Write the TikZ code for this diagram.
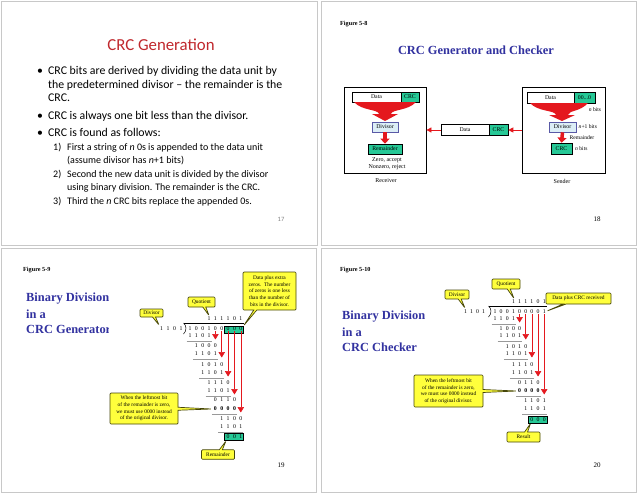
\documentclass[tikz,border=0pt]{standalone}
\usepackage{fontspec}
\setmainfont{Liberation Serif}
\newfontfamily\calfont{Carlito}
\usetikzlibrary{arrows.meta,shapes.callouts}
\definecolor{crcgreen}{RGB}{38,200,150}
\definecolor{funred}{RGB}{228,24,30}
\definecolor{ttlred}{RGB}{192,40,45}
\definecolor{ttlblue}{RGB}{50,50,160}
\definecolor{calyel}{RGB}{255,255,60}
\definecolor{calbrd}{RGB}{70,70,10}
\definecolor{divblue}{RGB}{220,238,246}
\definecolor{slidegray}{RGB}{200,200,200}
\newcommand\drow[7]{%
  \foreach \d [count=\k from #5] in {#6} {
    \node[dig,#7] (#1-\k) at ({#2+\k*#3}, #4) {\d};
  }}
\newcommand\funnel[5]{%
  \fill[funred] (#1,#3) .. controls (#1+8,#3+9) and (#4-7,#3+7) .. (#4-6,#3+12)
    -- (#4-13,#3+12) -- (#4,#5) -- (#4+13,#3+12) -- (#4+6,#3+12)
    .. controls (#4+7,#3+7) and (#2-8,#3+9) .. (#2,#3) -- cycle;}
\begin{document}
\begin{tikzpicture}[x=1pt,y=-1pt,
  slide/.style={draw=slidegray, line width=0.6pt},
  figlbl/.style={anchor=west, inner sep=0, font=\bfseries\fontsize{6.2}{7}\selectfont},
  bigt/.style={inner sep=0, text=ttlblue, font=\bfseries\fontsize{12.4}{14}\selectfont},
  btl/.style={bigt, anchor=west},
  lbl/.style={inner sep=0, font=\fontsize{6}{7}\selectfont},
  bx/.style={draw=black, line width=0.6pt, inner sep=0, minimum height=10pt, font=\fontsize{5.8}{7}\selectfont},
  wbox/.style={bx, fill=white},
  gbx/.style={bx, fill=crcgreen},
  dbox/.style={bx, fill=divblue, draw=gray!70!blue},
  outerbox/.style={draw=black, line width=0.8pt, inner sep=0, fill=white},
  dig/.style={inner sep=0, font=\fontsize{5.8}{6}\selectfont},
  rule/.style={draw=gray!80, line width=0.45pt},
  redarr/.style={draw=funred, line width=0.55pt, -{Triangle[width=6.5pt,length=5.5pt]}},
  fatarr/.style={draw=funred, line width=3.5pt, -{Triangle[width=9pt,length=5pt]}},
  thinarr/.style={draw=funred, line width=0.8pt, -{Triangle[width=5pt,length=5pt]}},
  hl/.style={draw=black, line width=0.5pt, fill=crcgreen, inner sep=0},
  callbox/.style={rectangle callout, draw=calbrd, fill=calyel, line width=0.7pt, rounded corners=1pt, inner sep=0, align=center, font=\fontsize{5.4}{6.6}\selectfont, callout pointer width=3pt},
  pnum/.style={inner sep=0, font=\fontsize{7}{8}\selectfont},
  bt/.style={anchor=west, inner sep=0, font=\calfont\fontsize{11.8}{13}\selectfont, text height=8pt, text depth=2.3pt},
  st/.style={anchor=west, inner sep=0, font=\calfont\fontsize{10}{11}\selectfont, text height=6.8pt, text depth=2pt}
]
\useasboundingbox (0,0) rectangle (638,493);
\fill[white] (0,0) rectangle (638,493);
% slide frames
\draw[slide] (1,1) rectangle (317,245);
\draw[slide] (321,1) rectangle (636,245);
\draw[slide] (1,248) rectangle (316,492);
\draw[slide] (321,248) rectangle (636,492);

% ---------------- slide 17 ----------------
\node[inner sep=0, text=ttlred, font=\calfont\fontsize{16.8}{19}\selectfont] (t17) at (161,45) {CRC Generation};
\node[bt] (u1) at (37,72) {•};
\node[bt] (b1) at (48,72) {CRC bits are derived by dividing the data unit by};
\node[bt] (b2) at (48,86) {the predetermined divisor – the remainder is the};
\node[bt] (b3) at (48,99) {CRC.};
\node[bt] (u2) at (37,117) {•};
\node[bt] (b4) at (48,117) {CRC is always one bit less than the divisor.};
\node[bt] (u3) at (37,134) {•};
\node[bt] (b5) at (48,134) {CRC is found as follows:};
\node[st] (n1) at (53,148) {1)};
\node[st] (s1) at (67,148) {First a string of \textit{n} 0s is appended to the data unit};
\node[st] (s2) at (67,161) {(assume divisor has \textit{n}+1 bits)};
\node[st] (n2) at (53,175) {2)};
\node[st] (s3) at (67,175) {Second the new data unit is divided by the divisor};
\node[st] (s4) at (67,188) {using binary division. The remainder is the CRC.};
\node[st] (n3) at (53,202) {3)};
\node[st] (s5) at (67,202) {Third the \textit{n} CRC bits replace the appended 0s.};
\node[inner sep=0, text=gray, font=\calfont\fontsize{6.5}{7}\selectfont] (p17) at (281,219) {17};

% ---------------- slide 18 ----------------
\node[figlbl] (f58) at (340,24) {Figure 5-8};
\node[bigt] (t18) at (476,50) {CRC Generator and Checker};
% receiver
\node[outerbox, minimum width=82pt, minimum height=86pt] (rbox) at (385,130) {};
\node[wbox, minimum width=49pt] (rdata) at (376.5,97) {Data};
\node[gbx, minimum width=18pt] (rcrc) at (410,97) {CRC};
\funnel{354}{416}{102}{385}{121}
\node[dbox, minimum width=26pt] (rdiv) at (385,127) {Divisor};
\node[gbx, minimum width=34pt] (rrem) at (385,149) {Remainder};
\draw[fatarr] (rdiv.south) -- (rrem.north);
\node[lbl, align=center, font=\fontsize{6}{7}\selectfont] (racc) at (387,163.5) {Zero, accept\\Nonzero, reject};
\node[lbl] (rlbl) at (386,181) {Receiver};
% middle
\node[wbox, minimum width=48pt, minimum height=11pt] (mdata) at (465,130) {Data};
\node[gbx, minimum width=19pt, minimum height=11pt] (mcrc) at (498.5,130) {CRC};
% sender
\node[outerbox, minimum width=83pt, minimum height=86pt] (sbox) at (563.5,130) {};
\node[wbox, minimum width=47pt, minimum height=11pt] (sdata) at (550.5,97.5) {Data};
\node[gbx, minimum width=21pt, minimum height=11pt] (szero) at (584.5,97.5) {00...0};
\funnel{530}{588}{103}{562}{121}
\node[lbl, font=\fontsize{5.6}{7}\selectfont] (snb) at (595,109.5) {\textit{n} bits};
\node[dbox, minimum width=27pt] (sdiv) at (562.5,127) {Divisor};
\node[lbl, anchor=west, font=\fontsize{5.6}{7}\selectfont] (sn1) at (578.5,127) {\textit{n}+1 bits};
\node[gbx, minimum width=21pt, minimum height=11pt] (scrc) at (561.5,148.5) {CRC};
\draw[fatarr] (sdiv.south) -- (scrc.north);
\node[lbl, font=\fontsize{5.6}{7}\selectfont] (srem) at (582,137.5) {Remainder};
\node[lbl, anchor=west, font=\fontsize{5.6}{7}\selectfont] (snb2) at (575,149) {\textit{n} bits};
\node[lbl] (slbl) at (562,181) {Sender};
\draw[thinarr] (sbox.west) -- (mcrc.east);
\draw[thinarr] (mdata.west) -- (rbox.east);
\node[pnum] (p18) at (597,219) {18};

% ---------------- slide 19 ----------------
\node[figlbl] (f59) at (23,270) {Figure 5-9};
\begin{scope}
\clip (0,250) rectangle (108,490);
\node[btl] (g1t) at (26,299) {Binary Division};
\node[btl] (g2t) at (26,314) {in a};
\node[btl] (g3t) at (26,329) {CRC Generator};
\end{scope}
\node[hl, minimum width=19.5pt, minimum height=7.5pt] (ghl) at (233.8,329.5) {};
\node[hl, minimum width=19.5pt, minimum height=7pt] (grem) at (233.8,437) {};
\drow{gv}{161.5}{6.5}{329}{0}{1,1,0,1}{}
\draw[line width=0.5pt] (184,323) -- (244,323);
\draw[line width=0.5pt] (183.5,323) .. controls (186.8,325.5) and (186.8,331) .. (183.5,334);
\drow{gq}{190}{6.35}{319}{3}{1,1,1,1,0,1}{}
\drow{gd}{190}{6.35}{329}{0}{1,0,0,1,0,0,0,0,0}{}
\drow{g1}{190}{6.35}{336}{0}{1,1,0,1}{}
\drow{g2}{190}{6.35}{346}{1}{1,0,0,0}{}
\drow{g3}{190}{6.35}{354}{1}{1,1,0,1}{}
\drow{g4}{190}{6.35}{365}{2}{1,0,1,0}{}
\drow{g5}{190}{6.35}{373}{2}{1,1,0,1}{}
\drow{g6}{190}{6.35}{383}{3}{1,1,1,0}{}
\drow{g7}{190}{6.35}{391}{3}{1,1,0,1}{}
\drow{g8}{190}{6.35}{400}{4}{0,1,1,0}{}
\drow{g9}{190}{6.35}{409}{4}{0,0,0,0}{font=\bfseries\fontsize{5.8}{6}\selectfont}
\drow{g10}{190}{6.35}{419}{5}{1,1,0,0}{}
\drow{g11}{190}{6.35}{427}{5}{1,1,0,1}{}
\drow{g12}{190}{6.35}{437}{6}{0,0,1}{}
\foreach \s/\yy in {0/341,1/359,2/378,3/396,4/414,5/432}
  \draw[rule] ({190+\s*6.35-3.5},\yy) -- ({190+(\s+3)*6.35+2.5},\yy);
\foreach \k/\yy in {4/336,5/354,6/373,7/391,8/409} {
  \coordinate (gt\k) at ({190+\k*6.35},\yy+3.5);
  \draw[redarr] (gd-\k.south) -- (gt\k);
}
\node[callbox, minimum width=23pt, minimum height=8pt, callout absolute pointer={(159,325)}] (gcdiv) at (151.5,313) {Divisor};
\node[callbox, minimum width=27pt, minimum height=10pt, callout absolute pointer={(209,315.5)}] (gcquo) at (201.5,302) {Quotient};
\node[callbox, minimum width=53pt, minimum height=38pt, callout absolute pointer={(ghl.north east)}] (gcdat) at (269.5,291) {Data plus extra\\zeros.\ \ The number\\of zeros is one less\\than the number of\\bits in the divisor.};
\node[callbox, minimum width=68pt, minimum height=31pt, callout absolute pointer={(211.5,409)}] (gclm) at (144,408.5) {When the leftmost bit\\of the remainder is zero,\\we must use 0000 instead\\of the original divisor.};
\node[callbox, minimum width=33pt, minimum height=9.5pt, callout absolute pointer={(226,441)}] (gcrem) at (218,454.5) {Remainder};
\node[pnum] (p19) at (281,465) {19};

% ---------------- slide 20 ----------------
\node[figlbl] (f510) at (340,270) {Figure 5-10};
\node[btl] (c1t) at (342,317) {Binary Division};
\node[btl] (c2t) at (342,332) {in a};
\node[btl] (c3t) at (342,347) {CRC Checker};
\node[hl, minimum width=19pt, minimum height=7.5pt] (cres) at (538.2,419.5) {};
\drow{cv}{465.5}{6}{312}{0}{1,1,0,1}{}
\draw[line width=0.5pt] (489,306) -- (547,306);
\draw[line width=0.5pt] (488.5,306) .. controls (491.8,308.5) and (491.8,314) .. (488.5,317);
\drow{cq}{495}{6.15}{302}{3}{1,1,1,1,0,1}{}
\drow{cd}{495}{6.15}{312}{0}{1,0,0,1,0,0,0,0,1}{}
\drow{c1}{495}{6.15}{319}{0}{1,1,0,1}{}
\drow{c2}{495}{6.15}{329}{1}{1,0,0,0}{}
\drow{c3}{495}{6.15}{336}{1}{1,1,0,1}{}
\drow{c4}{495}{6.15}{347}{2}{1,0,1,0}{}
\drow{c5}{495}{6.15}{354}{2}{1,1,0,1}{}
\drow{c6}{495}{6.15}{365}{3}{1,1,1,0}{}
\drow{c7}{495}{6.15}{373}{3}{1,1,0,1}{}
\drow{c8}{495}{6.15}{383}{4}{0,1,1,0}{}
\drow{c9}{495}{6.15}{391}{4}{0,0,0,0}{font=\bfseries\fontsize{5.8}{6}\selectfont}
\drow{c10}{495}{6.15}{401}{5}{1,1,0,1}{}
\drow{c11}{495}{6.15}{409}{5}{1,1,0,1}{}
\drow{c12}{495}{6.15}{419.5}{6}{0,0,0}{}
\foreach \s/\yy in {0/324,1/341,2/359,3/378,4/396,5/414}
  \draw[rule] ({495+\s*6.15-3.5},\yy) -- ({495+(\s+3)*6.15+2.5},\yy);
\foreach \k/\yy in {4/319,5/336,6/354,7/373,8/391} {
  \coordinate (ct\k) at ({495+\k*6.15},\yy+3.5);
  \draw[redarr] (cd-\k.south) -- (ct\k);
}
\node[callbox, minimum width=28pt, minimum height=10pt, callout absolute pointer={(514,298.5)}] (ccquo) at (506,284) {Quotient};
\node[callbox, minimum width=24pt, minimum height=9pt, callout absolute pointer={(465,308)}] (ccdiv) at (457,294.5) {Divisor};
\node[callbox, minimum width=65pt, minimum height=11pt, callout absolute pointer={(547,311)}] (ccdat) at (578.5,298.5) {Data plus CRC received};
\node[callbox, minimum width=69pt, minimum height=32pt, callout absolute pointer={(516.5,391)}] (cclm) at (448.5,391) {When the leftmost bit\\of the remainder is zero,\\we must use 0000 instead\\of the original divisor.};
\node[callbox, minimum width=33pt, minimum height=10pt, callout absolute pointer={(530.5,423.5)}] (ccres) at (523.5,437) {Result};
\node[pnum] (p20) at (597,465) {20};
\end{tikzpicture}
\end{document}
